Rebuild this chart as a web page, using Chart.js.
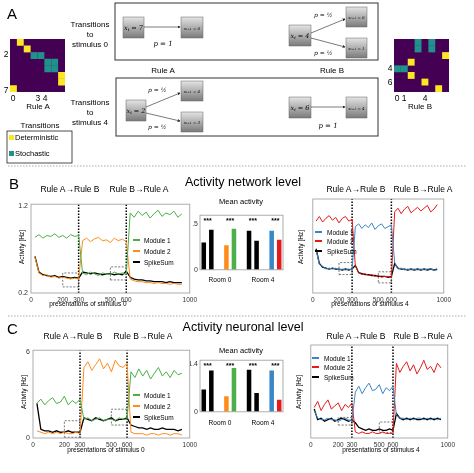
<!DOCTYPE html>
<html>
<head>
<meta charset="utf-8">
<script src="https://cdn.jsdelivr.net/npm/chart.js@4.4.1/dist/chart.umd.min.js"></script>
<style>
  body { margin: 0; background: #fff; }
  #page { position: relative; width: 474px; height: 473px; overflow: hidden; font-family: "Liberation Sans", Arial, sans-serif; }
  canvas { position: absolute; }
  svg { position: absolute; left: 0; top: 0; pointer-events: none; }
</style>
</head>
<body>
<div id="page">
  <canvas id="heatA" width="70" height="67" style="left:0;top:35px"></canvas>
  <canvas id="heatB" width="70" height="67" style="left:384px;top:35px"></canvas>
  <canvas id="bLeft" width="189" height="112" style="left:11px;top:197px"></canvas>
  <canvas id="bRight" width="146" height="112" style="left:308px;top:197px"></canvas>
  <canvas id="bMid" width="95" height="67" style="left:190px;top:209px"></canvas>
  <canvas id="cLeft" width="187" height="111" style="left:13px;top:343px"></canvas>
  <canvas id="cRight" width="152" height="111" style="left:306px;top:343px"></canvas>
  <canvas id="cMid" width="95" height="64" style="left:190px;top:354px"></canvas>
  <svg width="474" height="473" font-family="Liberation Sans, Arial, sans-serif">
    <defs>
      <linearGradient id="nodeGrad" x1="0" y1="0" x2="0" y2="1">
        <stop offset="0" stop-color="#e4e4e4"/>
        <stop offset="1" stop-color="#7a7a7a"/>
      </linearGradient>
      <marker id="arr" markerWidth="5" markerHeight="5" refX="4" refY="2.5" orient="auto">
        <path d="M0,0 L5,2.5 L0,5 z" fill="#222"/>
      </marker>
    </defs>
    <!-- panel letters and separators -->
    <text x="7" y="19" font-size="15">A</text>
    <text x="9" y="189" font-size="15">B</text>
    <text x="7" y="334" font-size="15">C</text>
    <line x1="8" y1="166" x2="466" y2="166" stroke="#aaa" stroke-dasharray="1.5,1.5"/>
    <line x1="8" y1="316" x2="466" y2="316" stroke="#aaa" stroke-dasharray="1.5,1.5"/>

    <!-- panel A -->
    <g font-size="8.5" text-anchor="middle">
      <text x="6" y="57">2</text>
      <text x="6" y="93">7</text>
      <text x="13" y="101">0</text>
      <text x="41.5" y="101">3 4</text>
      <text x="390" y="71">4</text>
      <text x="390" y="85">6</text>
      <text x="397" y="101">0</text>
      <text x="404" y="101">1</text>
      <text x="425" y="101">4</text>
    </g>
    <text x="38" y="109" font-size="8" text-anchor="middle">Rule A</text>
    <text x="420" y="109" font-size="8" text-anchor="middle">Rule B</text>
    <text x="40" y="128" font-size="8" text-anchor="middle">Transitions</text>
    <rect x="7" y="131" width="65" height="32" fill="none" stroke="#222" stroke-width="0.8"/>
    <rect x="9" y="135" width="5" height="5" fill="#fde725"/>
    <text x="15" y="140" font-size="7.5">Deterministic</text>
    <rect x="9" y="151" width="5" height="5" fill="#21918c"/>
    <text x="15" y="156" font-size="7.5">Stochastic</text>

    <text x="90" y="27" font-size="8" text-anchor="middle">Transitions</text>
    <text x="90" y="37" font-size="8" text-anchor="middle">to</text>
    <text x="90" y="47" font-size="8" text-anchor="middle">stimulus 0</text>
    <text x="90" y="105" font-size="8" text-anchor="middle">Transitions</text>
    <text x="90" y="115" font-size="8" text-anchor="middle">to</text>
    <text x="90" y="125" font-size="8" text-anchor="middle">stimulus 4</text>
    <text x="163" y="73" font-size="8" text-anchor="middle">Rule A</text>
    <text x="332" y="73" font-size="8" text-anchor="middle">Rule B</text>

    <rect x="115" y="3" width="263" height="57" fill="none" stroke="#333" stroke-width="1"/>
    <rect x="116" y="78" width="262" height="58" fill="none" stroke="#333" stroke-width="1"/>

    <g font-family="DejaVu Serif, serif" font-style="italic" font-size="6.5">
      <rect x="123" y="17" width="21" height="21" fill="url(#nodeGrad)" stroke="#666" stroke-width="0.5"/>
      <text x="133.5" y="30" text-anchor="middle">x<tspan font-size="4" dy="1">t</tspan><tspan dy="-1"> = 7</tspan></text>
      <rect x="181" y="17" width="22" height="21" fill="url(#nodeGrad)" stroke="#666" stroke-width="0.5"/>
      <text x="192" y="30" text-anchor="middle" font-size="4">x<tspan font-size="3">t+1</tspan> = 0</text>
      <line x1="144" y1="27" x2="180" y2="27" stroke="#222" stroke-width="0.6" marker-end="url(#arr)"/>
      <text x="163" y="46" text-anchor="middle" font-size="7">p = 1</text>
      <rect x="289" y="25" width="22" height="21" fill="url(#nodeGrad)" stroke="#666" stroke-width="0.5"/>
      <text x="300" y="38" text-anchor="middle">x<tspan font-size="4" dy="1">t</tspan><tspan dy="-1"> = 4</tspan></text>
      <rect x="346" y="7" width="21" height="20" fill="url(#nodeGrad)" stroke="#666" stroke-width="0.5"/>
      <text x="356.5" y="19" text-anchor="middle" font-size="4">x<tspan font-size="3">t+1</tspan> = 0</text>
      <rect x="346" y="38" width="21" height="20" fill="url(#nodeGrad)" stroke="#666" stroke-width="0.5"/>
      <text x="356.5" y="50" text-anchor="middle" font-size="4">x<tspan font-size="3">t+1</tspan> = 1</text>
      <line x1="311" y1="33" x2="345" y2="19" stroke="#222" stroke-width="0.6" marker-end="url(#arr)"/>
      <line x1="311" y1="38" x2="345" y2="47" stroke="#222" stroke-width="0.6" marker-end="url(#arr)"/>
      <text x="314" y="17" font-size="6">p = ½</text>
      <text x="314" y="55" font-size="6">p = ½</text>
      <rect x="126" y="100" width="20" height="21" fill="url(#nodeGrad)" stroke="#666" stroke-width="0.5"/>
      <text x="136" y="113" text-anchor="middle">x<tspan font-size="4" dy="1">t</tspan><tspan dy="-1"> = 2</tspan></text>
      <rect x="181" y="81" width="22" height="20" fill="url(#nodeGrad)" stroke="#666" stroke-width="0.5"/>
      <text x="192" y="93" text-anchor="middle" font-size="4">x<tspan font-size="3">t+1</tspan> = 4</text>
      <rect x="181" y="112" width="22" height="20" fill="url(#nodeGrad)" stroke="#666" stroke-width="0.5"/>
      <text x="192" y="124" text-anchor="middle" font-size="4">x<tspan font-size="3">t+1</tspan> = 3</text>
      <line x1="146" y1="107" x2="180" y2="93" stroke="#222" stroke-width="0.6" marker-end="url(#arr)"/>
      <line x1="146" y1="113" x2="180" y2="121" stroke="#222" stroke-width="0.6" marker-end="url(#arr)"/>
      <text x="148" y="92" font-size="6">p = ½</text>
      <text x="148" y="129" font-size="6">p = ½</text>
      <rect x="289" y="97" width="22" height="21" fill="url(#nodeGrad)" stroke="#666" stroke-width="0.5"/>
      <text x="300" y="110" text-anchor="middle">x<tspan font-size="4" dy="1">t</tspan><tspan dy="-1"> = 6</tspan></text>
      <rect x="346" y="97" width="21" height="21" fill="url(#nodeGrad)" stroke="#666" stroke-width="0.5"/>
      <text x="356.5" y="110" text-anchor="middle" font-size="4">x<tspan font-size="3">t+1</tspan> = 4</text>
      <line x1="311" y1="107" x2="345" y2="107" stroke="#222" stroke-width="0.6" marker-end="url(#arr)"/>
      <text x="328" y="128" text-anchor="middle" font-size="7">p = 1</text>
    </g>

    <!-- panel B texts -->
    <text x="243" y="186" font-size="12.5" text-anchor="middle">Activity network level</text>
    <text x="70" y="192" font-size="8.5" text-anchor="middle">Rule A→Rule B</text>
    <text x="139" y="192" font-size="8.5" text-anchor="middle">Rule B→Rule A</text>
    <text x="356" y="192" font-size="8.5" text-anchor="middle">Rule A→Rule B</text>
    <text x="423" y="192" font-size="8.5" text-anchor="middle">Rule B→Rule A</text>
    <text x="241" y="204" font-size="7.5" text-anchor="middle">Mean activity</text>
    <text x="220" y="282" font-size="6.5" text-anchor="middle">Room 0</text>
    <text x="263" y="282" font-size="6.5" text-anchor="middle">Room 4</text>
    <text x="24" y="247" font-size="6.5" text-anchor="middle" transform="rotate(-90 24 247)">Activity [Hz]</text>
    <text x="303" y="247" font-size="6.5" text-anchor="middle" transform="rotate(-90 303 247)">Activity [Hz]</text>
    <text x="88" y="306" font-size="6.5" text-anchor="middle">presentations of  stimulus 0</text>
    <text x="370" y="306" font-size="6.5" text-anchor="middle">presentations of  stimulus 4</text>
    <g font-size="6.5">
      <line x1="133" y1="240" x2="140" y2="240" stroke="#4daf4a" stroke-width="2"/><text x="144" y="242.5">Module 1</text>
      <line x1="133" y1="251" x2="140" y2="251" stroke="#ff8c1a" stroke-width="2"/><text x="144" y="253.5">Module 2</text>
      <line x1="133" y1="262" x2="140" y2="262" stroke="#000" stroke-width="2"/><text x="144" y="264.5">SpikeSum</text>
      <line x1="315" y1="232" x2="322" y2="232" stroke="#3a87c8" stroke-width="2"/><text x="327" y="234.5">Module 1</text>
      <line x1="315" y1="241" x2="322" y2="241" stroke="#e41a1c" stroke-width="2"/><text x="327" y="243.5">Module 2</text>
      <line x1="315" y1="251" x2="322" y2="251" stroke="#000" stroke-width="2"/><text x="327" y="253.5">SpikeSum</text>
    </g>

    <!-- panel C texts -->
    <text x="243" y="331" font-size="12.5" text-anchor="middle">Activity neuronal level</text>
    <text x="73" y="339" font-size="8.5" text-anchor="middle">Rule A→Rule B</text>
    <text x="143" y="339" font-size="8.5" text-anchor="middle">Rule B→Rule A</text>
    <text x="356" y="339" font-size="8.5" text-anchor="middle">Rule A→Rule B</text>
    <text x="423" y="339" font-size="8.5" text-anchor="middle">Rule B→Rule A</text>
    <text x="241" y="353" font-size="7.5" text-anchor="middle">Mean activity</text>
    <text x="220" y="425" font-size="6.5" text-anchor="middle">Room 0</text>
    <text x="263" y="425" font-size="6.5" text-anchor="middle">Room 4</text>
    <text x="26" y="392" font-size="6.5" text-anchor="middle" transform="rotate(-90 26 392)">Activity [Hz]</text>
    <text x="301" y="392" font-size="6.5" text-anchor="middle" transform="rotate(-90 301 392)">Activity [Hz]</text>
    <text x="106" y="452" font-size="6.5" text-anchor="middle">presentations of  stimulus 0</text>
    <text x="381" y="452" font-size="6.5" text-anchor="middle">presentations of  stimulus 4</text>
    <g font-size="6.5">
      <line x1="133" y1="395" x2="140" y2="395" stroke="#4daf4a" stroke-width="2"/><text x="144" y="397.5">Module 1</text>
      <line x1="133" y1="406" x2="140" y2="406" stroke="#ff8c1a" stroke-width="2"/><text x="144" y="408.5">Module 2</text>
      <line x1="133" y1="417" x2="140" y2="417" stroke="#000" stroke-width="2"/><text x="144" y="419.5">SpikeSum</text>
      <line x1="312" y1="358" x2="319" y2="358" stroke="#3a87c8" stroke-width="2"/><text x="324" y="360.5">Module 1</text>
      <line x1="312" y1="367" x2="319" y2="367" stroke="#e41a1c" stroke-width="2"/><text x="324" y="369.5">Module 2</text>
      <line x1="312" y1="377" x2="319" y2="377" stroke="#000" stroke-width="2"/><text x="324" y="379.5">SpikeSum</text>
    </g>
  </svg>
</div>

<script>
// heatmap cells [col, row]
var ruleAYellow = [[1, 0], [2, 1], [7, 5], [7, 6], [0, 7]];
var ruleATeal = [[3, 2], [4, 2], [5, 3], [6, 3], [5, 4], [6, 4]];
var ruleBYellow = [[7, 2], [2, 3], [2, 5], [4, 6], [6, 7]];
var ruleBTeal = [[3, 0], [3, 1], [5, 0], [5, 1], [0, 4], [1, 4]];

// time series, x = presentations
var xs = [25, 50, 75, 100, 125, 150, 175, 200, 225, 250, 275, 300,
          325, 350, 375, 400, 425, 450, 475, 500, 525, 550, 575, 600,
          625, 650, 675, 700, 725, 750, 775, 800, 825, 850, 875, 900, 925, 950];
var xTicks = [0, 200, 300, 500, 600, 1000];
var switches = [300, 600];

var bNetM1 = [0.84,0.87,0.83,0.86,0.85,0.88,0.84,0.86,0.83,0.87,0.85,0.86, 0.43,0.41,0.44,0.42,0.40,0.43,0.42,0.41,0.44,0.42,0.43,0.41, 1.12,1.07,1.14,1.09,1.13,1.06,1.11,1.15,1.08,1.12,1.10,1.14,1.07,1.11];
var bNetM2 = [0.61,0.43,0.40,0.41,0.38,0.39,0.37,0.38,0.37,0.36,0.37,0.36, 0.80,0.83,0.79,0.82,0.84,0.80,0.81,0.78,0.83,0.80,0.82,0.79, 0.36,0.34,0.33,0.33,0.32,0.32,0.31,0.32,0.31,0.31,0.30,0.31,0.30,0.30];
var bNetSum = [0.62,0.44,0.41,0.40,0.39,0.40,0.38,0.39,0.38,0.37,0.38,0.37, 0.44,0.43,0.42,0.43,0.42,0.41,0.42,0.42,0.41,0.42,0.41,0.45, 0.38,0.36,0.35,0.35,0.34,0.34,0.33,0.33,0.33,0.32,0.33,0.32,0.32,0.32];
var bNetRM1 = [0.67,0.51,0.49,0.46,0.47,0.46,0.47,0.45,0.46,0.45,0.46,0.45, 0.92,0.95,0.90,0.94,0.91,0.96,0.89,0.93,0.95,0.90,0.92,0.94, 0.53,0.46,0.47,0.45,0.46,0.45,0.46,0.45,0.46,0.45,0.46,0.46,0.45,0.45];
var bNetRM2 = [0.98,1.03,0.97,1.01,1.04,0.99,1.02,0.96,1.01,1.03,0.98,1.00, 0.49,0.42,0.40,0.41,0.39,0.40,0.38,0.39,0.37,0.38,0.38,0.37, 1.08,1.12,1.06,1.11,1.14,1.07,1.10,1.13,1.09,1.12,1.15,1.08,1.11,1.16];
var bNetRSum = [0.68,0.52,0.48,0.47,0.46,0.47,0.46,0.46,0.45,0.46,0.45,0.46, 0.50,0.42,0.41,0.40,0.40,0.39,0.39,0.38,0.38,0.38,0.37,0.38, 0.52,0.47,0.46,0.46,0.45,0.46,0.45,0.46,0.45,0.46,0.45,0.46,0.45,0.46];

var cNeuM1 = [2.4,2.7,2.3,2.6,2.8,2.4,2.5,2.9,2.3,2.6,2.4,2.7, 1.3,1.4,1.2,1.3,1.4,1.2,1.3,1.3,1.2,1.4,1.3,1.3, 4.6,4.2,4.8,4.3,4.7,4.1,4.5,4.9,4.3,4.6,4.2,4.7,4.4,4.5];
var cNeuM2 = [0.5,0.4,0.3,0.4,0.3,0.4,0.3,0.4,0.3,0.3,0.4,0.3, 4.9,5.3,4.7,5.1,5.5,4.8,5.2,4.6,5.4,5.0,4.9,5.2, 0.4,0.3,0.3,0.3,0.2,0.3,0.3,0.2,0.3,0.3,0.2,0.3,0.3,0.2];
var cNeuSum = [2.4,0.6,0.5,0.5,0.4,0.5,0.4,0.4,0.5,0.4,0.4,0.4, 1.4,1.3,1.2,1.4,1.3,1.2,1.3,1.4,1.2,1.3,1.3,1.4, 0.9,0.8,0.7,0.7,0.6,0.7,0.6,0.6,0.7,0.6,0.6,0.6,0.5,0.6];
var cNeuRM1 = [1.8,1.3,1.2,1.2,1.3,1.2,1.2,1.1,1.2,1.3,1.2,1.1, 3.0,3.4,2.9,3.3,3.6,3.1,3.2,3.5,2.9,3.3,3.1,3.4, 1.5,1.3,1.3,1.2,1.3,1.2,1.3,1.3,1.2,1.3,1.2,1.3,1.2,1.3];
var cNeuRM2 = [2.0,2.4,1.8,2.2,2.5,1.9,2.1,2.3,1.8,2.2,2.0,2.3, 0.4,0.3,0.4,0.3,0.3,0.4,0.3,0.3,0.4,0.3,0.3,0.3, 4.9,4.3,4.7,5.0,4.4,4.8,4.2,4.6,5.1,4.5,4.7,4.3,4.9,4.6];
var cNeuRSum = [1.9,1.2,1.3,1.1,1.2,1.3,1.1,1.2,1.3,1.2,1.1,1.2, 1.0,0.7,0.6,0.5,0.6,0.5,0.5,0.6,0.5,0.5,0.6,0.5, 1.6,1.3,1.2,1.3,1.2,1.3,1.2,1.2,1.3,1.2,1.3,1.2,1.3,1.2];

// zoom boxes [x0, x1, y0, y1]
var bLeftBoxes = [[200, 300, 0.27, 0.43], [500, 600, 0.35, 0.50]];
var bRightBoxes = [[200, 300, 0.40, 0.53], [500, 600, 0.31, 0.43]];
var cLeftBoxes = [[200, 300, 0.05, 1.2], [500, 600, 0.9, 2.0]];
var cRightBoxes = [[200, 300, 0.85, 1.35], [500, 600, 0.35, 1.05]];

// mean activity bars (gaps between pairs)
var barCats = ['b0', 'b1', 'gap0', 'm2', 'm1', 'gap1', 'b2', 'b3', 'gap2', 'm1b', 'm2b'];
var bMeans = [0.30, 0.44, null, 0.27, 0.45, null, 0.43, 0.32, null, 0.43, 0.33];
var cMeans = [0.65, 1.20, null, 0.45, 1.27, null, 1.22, 0.55, null, 1.20, 0.35];

var GREEN = '#4daf4a', ORANGE = '#ff8c1a', BLUE = '#3a87c8', RED = '#e41a1c';
var barColors = ['#000', '#000', '#fff', ORANGE, GREEN, '#fff', '#000', '#000', '#fff', BLUE, RED];

Chart.defaults.font.family = '"Liberation Sans", Arial, sans-serif';
Chart.defaults.font.size = 7;
Chart.defaults.color = '#333';
Chart.defaults.animation = false;

var frame = {
    id: 'frame',
    beforeDraw: function(chart, args, opts) {
        var a = chart.chartArea, c = chart.ctx;
        if (opts.fill) {
            c.fillStyle = opts.fill;
            c.fillRect(a.left, a.top, a.right - a.left, a.bottom - a.top);
        }
    },
    afterDraw: function(chart, args, opts) {
        if (!opts.stroke) return;
        var a = chart.chartArea, c = chart.ctx;
        c.save();
        c.strokeStyle = opts.stroke;
        c.lineWidth = 0.8;
        c.strokeRect(a.left, a.top, a.right - a.left, a.bottom - a.top);
        c.restore();
    }
};

var stars = {
    id: 'stars',
    afterDatasetsDraw: function(chart, args, opts) {
        if (!opts.pairs) return;
        var c = chart.ctx, x = chart.scales.x;
        c.save();
        c.fillStyle = '#000';
        c.font = 'bold 7px "Liberation Sans", Arial';
        c.textAlign = 'center';
        opts.pairs.forEach(function(p) {
            var cx = (x.getPixelForValue(p[0]) + x.getPixelForValue(p[1])) / 2;
            c.fillText('***', cx, chart.chartArea.top + 8);
        });
        c.restore();
    }
};

function heatmap(id, yellow, teal) {
    var toPts = function(l) { return l.map(function(p) { return {x: p[0], y: p[1]}; }); };
    var rad = function(ctx) {
        var a = ctx.chart.chartArea;
        return a ? (a.right - a.left) / 8 / 1.414 : 3;
    };
    new Chart(document.getElementById(id), {
        type: 'scatter',
        data: {datasets: [
            {data: toPts(yellow), backgroundColor: '#fde725', borderWidth: 0, pointStyle: 'rect', pointRadius: rad},
            {data: toPts(teal), backgroundColor: '#21918c', borderWidth: 0, pointStyle: 'rect', pointRadius: rad}
        ]},
        options: {
            responsive: false,
            layout: {padding: {top: 2, right: 5, left: 10, bottom: 10}},
            plugins: {legend: {display: false}, tooltip: {enabled: false}, frame: {fill: '#440154'}},
            scales: {
                x: {display: false, min: -0.5, max: 7.5},
                y: {display: false, min: -0.5, max: 7.5, reverse: true}
            }
        },
        plugins: [frame]
    });
}

function series(vals, color, w) {
    return {data: xs.map(function(x, i) { return {x: x, y: vals[i]}; }),
            borderColor: color, borderWidth: w || 1, pointRadius: 0, tension: 0};
}

function timeChart(id, lines, boxes, ymin, ymax, yTicks, leftAxis) {
    var ds = lines.slice();
    boxes.forEach(function(b) {
        ds.push({data: [{x: b[0], y: b[2]}, {x: b[1], y: b[2]}, {x: b[1], y: b[3]}, {x: b[0], y: b[3]}, {x: b[0], y: b[2]}],
                 borderColor: '#555', borderWidth: 0.8, borderDash: [2, 1.5], pointRadius: 0});
    });
    switches.forEach(function(s) {
        ds.push({data: [{x: s, y: ymin}, {x: s, y: ymax}], borderColor: '#000', borderWidth: 1.5,
                 borderDash: [1.5, 1.5], pointRadius: 0});
    });
    new Chart(document.getElementById(id), {
        type: 'line',
        data: {datasets: ds},
        options: {
            responsive: false,
            layout: {padding: {top: 2, right: 8}},
            plugins: {legend: {display: false}, tooltip: {enabled: false}, frame: {stroke: '#999'}},
            scales: {
                x: {type: 'linear', min: 0, max: 1000, grid: {display: false, drawTicks: false}, border: {display: false},
                    afterBuildTicks: function(s) { s.ticks = xTicks.map(function(v) { return {value: v}; }); },
                    ticks: {font: {size: 6.5}, padding: 3, maxRotation: 0, callback: function(v) { return String(v); }},
                    afterFit: function(s) { s.height = 16; }},
                y: {min: ymin, max: ymax, grid: {display: false, drawTicks: false}, border: {display: false},
                    afterBuildTicks: function(s) { s.ticks = yTicks.map(function(v) { return {value: v}; }); },
                    ticks: {display: leftAxis, font: {size: 7}, padding: 3},
                    afterFit: function(s) { s.width = leftAxis ? 20 : 2; }}
            }
        },
        plugins: [frame]
    });
}

function meanChart(id, vals, ymax, yTicks, labels) {
    new Chart(document.getElementById(id), {
        type: 'bar',
        data: {labels: barCats, datasets: [{data: vals, backgroundColor: barColors,
               barPercentage: 0.6, categoryPercentage: 1}]},
        options: {
            responsive: false,
            layout: {padding: {right: 2}},
            plugins: {legend: {display: false}, tooltip: {enabled: false}, frame: {stroke: '#999'},
                      stars: {pairs: [[0, 1], [3, 4], [6, 7], [9, 10]]}},
            scales: {
                x: {display: false},
                y: {min: 0, max: ymax, grid: {display: false, drawTicks: false}, border: {display: false},
                    afterBuildTicks: function(s) { s.ticks = yTicks.map(function(v) { return {value: v}; }); },
                    ticks: {font: {size: 7}, padding: 2, callback: function(v, i) { return labels[i]; }},
                    afterFit: function(s) { s.width = 10; }}
            }
        },
        plugins: [frame, stars]
    });
}

heatmap('heatA', ruleAYellow, ruleATeal);
heatmap('heatB', ruleBYellow, ruleBTeal);

timeChart('bLeft', [series(bNetM1, GREEN), series(bNetM2, ORANGE), series(bNetSum, '#000', 1.3)],
          bLeftBoxes, 0.2, 1.22, [0.2, 1.2], true);
timeChart('bRight', [series(bNetRM1, BLUE), series(bNetRM2, RED), series(bNetRSum, '#000', 1.3)],
          bRightBoxes, 0.2, 1.22, [], false);
timeChart('cLeft', [series(cNeuM1, GREEN), series(cNeuM2, ORANGE), series(cNeuSum, '#000', 1.3)],
          cLeftBoxes, 0, 6.1, [0, 6], true);
timeChart('cRight', [series(cNeuRM1, BLUE), series(cNeuRM2, RED), series(cNeuRSum, '#000', 1.3)],
          cRightBoxes, 0, 6.1, [], false);

meanChart('bMid', bMeans, 0.6, [0, 0.5], ['0', '.5']);
meanChart('cMid', cMeans, 1.5, [0, 1.4], ['0', '1.4']);
</script>
</body>
</html>
